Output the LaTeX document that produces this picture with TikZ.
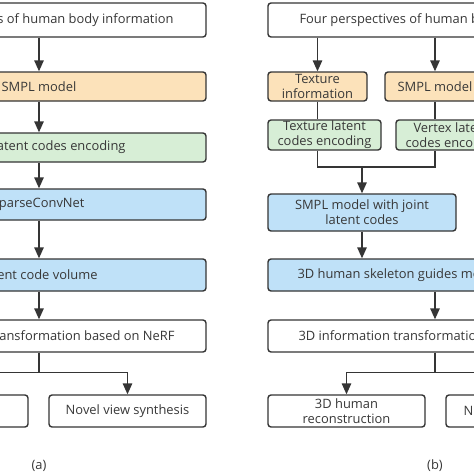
\documentclass[tikz,border=0pt]{standalone}
\usepackage{fontspec}
\setmainfont{Open Sans}
\usepackage{tikz}
\usetikzlibrary{arrows.meta}
\definecolor{edgegray}{HTML}{353535}
\definecolor{boxorange}{HTML}{FCE2BA}
\definecolor{boxgreen}{HTML}{D7EED6}
\definecolor{boxblue}{HTML}{BFE1F8}
\definecolor{textgray}{HTML}{383838}

\begin{document}
\begin{tikzpicture}[
    x=1pt,y=-1pt,font=\fontsize{12.9}{15}\selectfont,text=textgray,
    box/.style={draw=edgegray,line width=1.4pt,rounded corners=3pt,inner sep=0pt,align=center},
    wide/.style={box,minimum width=334,minimum height=32},
    small/.style={box,minimum width=157,minimum height=32},
    lbl/.style={inner sep=0pt,align=center,text=textgray},
    flow/.style={-{Triangle[length=11pt,width=9.5pt]},draw=edgegray,line width=1.4pt},
    link/.style={draw=edgegray,line width=1.4pt}
]
\useasboundingbox (0,0) rectangle (474,474);
\fill[white] (0,0) rectangle (474,474);
\clip (0,0) rectangle (474,474);

% (a) single branch pipeline
\node[wide,minimum height=34,fill=white,
      label={[lbl,anchor=east,xshift=-33]east:s of human body information}] (a1) at (39,20) {};
\node[wide,minimum height=29,fill=boxorange] (a2) at (39,86.5) {SMPL model};
\node[wide,minimum height=29,fill=boxgreen,
      label={[lbl,anchor=east,xshift=-81]east:atent codes encoding}] (a3) at (39,147.5) {};
\node[wide,minimum height=31,fill=boxblue,
      label={[lbl,anchor=east,xshift=-122]east:parseConvNet}] (a4) at (39,204.5) {};
\node[wide,fill=boxblue,
      label={[lbl,anchor=east,xshift=-109]east:ent code volume}] (a5) at (39,275) {};
\node[wide,fill=white,
      label={[lbl,anchor=east,xshift=-32]east:ransformation based on NeRF}] (a6) at (39,336) {};
\node[small,fill=white] (a7) at (-50.5,411) {};
\node[small,fill=white] (a8) at (127.5,411) {Novel view synthesis};
\node[lbl] (capa) at (39,466) {(a)};

\draw[flow] (a1.south) -- (a2.north);
\draw[flow] (a2.south) -- (a3.north);
\draw[flow] (a3.south) -- (a4.north);
\draw[flow] (a4.south) -- (a5.north);
\draw[flow] (a5.south) -- (a6.north);
\draw[flow] (a6.south) -- ++(0,20) -| (a7.north);
\draw[flow] (a6.south) -- ++(0,20) -| (a8.north);

% (b) two branch pipeline
\node[wide,minimum height=34,fill=white,
      label={[lbl,anchor=west,xshift=32]west:Four perspectives of human b}] (b1) at (435,20) {};
\node[box,minimum width=99,minimum height=29,fill=boxorange] (b2) at (317.5,86.5) {Texture\\information};
\node[box,minimum width=100,minimum height=29,fill=boxorange] (b3) at (435,86.5) {SMPL model};
\node[box,minimum width=113,minimum height=30,fill=boxgreen] (b4) at (324.5,135) {Texture latent\\codes encoding};
\node[box,minimum width=113,minimum height=30,fill=boxgreen,
      label={[lbl,align=left,anchor=west,xshift=10]west:\hspace*{8pt}Vertex late\\codes enco}] (b5) at (452.5,135) {};
\node[box,minimum width=188,minimum height=37,fill=boxblue] (b6) at (362,212.5) {SMPL model with joint\\latent codes};
\node[wide,fill=boxblue,
      label={[lbl,anchor=west,xshift=30]west:3D human skeleton guides me}] (b7) at (435,275) {};
\node[wide,fill=white,
      label={[lbl,anchor=west,xshift=31]west:3D information transformatio}] (b8) at (435,336) {};
\node[small,fill=white] (b9) at (346.5,411) {3D human\\reconstruction};
\node[small,fill=white,
      label={[lbl,anchor=west,xshift=18]west:N}] (b10) at (524.5,411) {};
\node[lbl] (capb) at (435,466) {(b)};
\coordinate (bjoin) at (362,167);

\draw[flow] (b1.south -| b2.north) -- (b2.north);
\draw[flow] (b1.south -| b3.north) -- (b3.north);
\draw[link] (b2.south) -- (b2.south |- b4.north);
\draw[link] (b3.south) -- (b3.south |- b5.north);
\draw[link] (b2.south |- b4.south) |- (bjoin) -| (b3.south |- b5.south);
\draw[flow] (bjoin) -- (b6.north);
\draw[flow] (b6.south) -- (b6.south |- b7.north);
\draw[flow] (b7.south) -- (b8.north);
\draw[flow] (b8.south) -- ++(0,20) -| (b9.north);
\draw[flow] (b8.south) -- ++(0,20) -| (b10.north);
\end{tikzpicture}
\end{document}
